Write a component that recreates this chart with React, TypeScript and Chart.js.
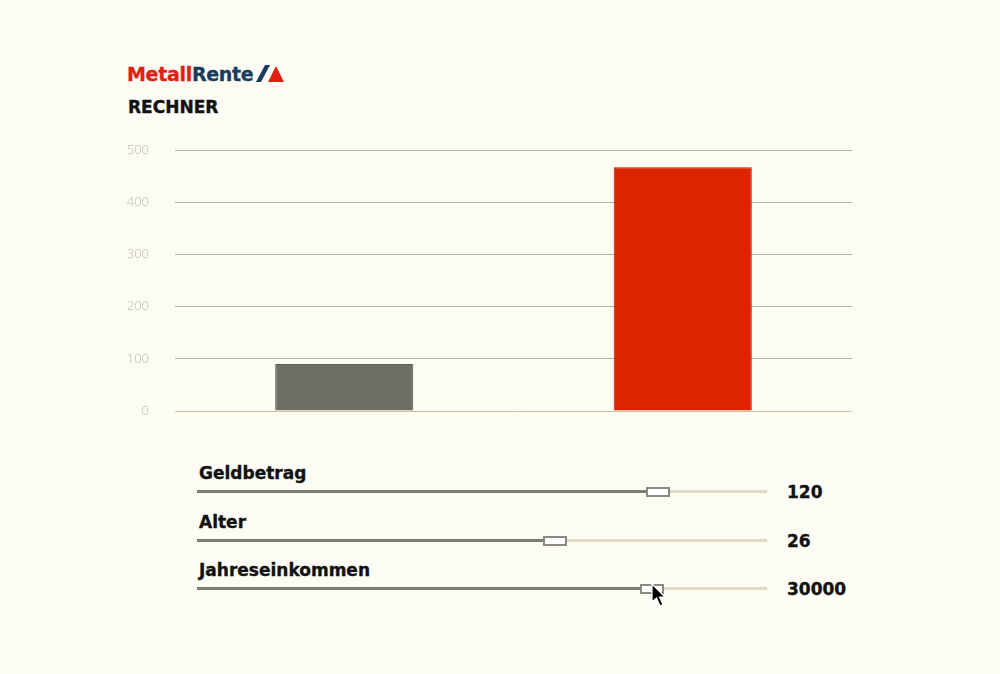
import React, { useEffect, useRef } from "react";
import { Chart, registerables } from "chart.js";

Chart.register(...registerables);

const categories = ["Einzahlung", "Auszahlung"];
const values = [90, 467];
const barColors = ["#6e6e64", "#dd2300"];
const barBorders = ["#5e5e58", "#c41a00"];
const yMin = 0;
const yMax = 500;
const yStep = 100;

const sliderLabels = ["Geldbetrag", "Alter", "Jahreseinkommen"];
const sliderValues = ["120", "26", "30000"];
const sliderFill = [0.809, 0.628, 0.798];

const FONT = "'DejaVu Sans', 'Noto Sans', sans-serif";

function Slider({ label, value, fill, top }: { label: string; value: string; fill: number; top: number }) {
  const trackLeft = 197;
  const trackWidth = 570;
  const thumbX = trackLeft + trackWidth * fill;
  return (
    <>
      <div
        style={{
          position: "absolute",
          left: 199,
          top: top - 29,
          fontFamily: FONT,
          fontWeight: 700,
          fontSize: 17,
          lineHeight: "20px",
          color: "#111",
          WebkitTextStroke: "0.35px #111",
        }}
      >
        {label}
      </div>
      <div
        style={{
          position: "absolute",
          left: trackLeft,
          top: top - 1.5,
          width: thumbX - trackLeft,
          height: 3,
          background: "#7c7c72",
        }}
      />
      <div
        style={{
          position: "absolute",
          left: thumbX,
          top: top - 1.5,
          width: trackLeft + trackWidth - thumbX,
          height: 3,
          background: "#dcdcc6",
        }}
      />
      <div
        style={{
          position: "absolute",
          left: thumbX - 12,
          top: top - 5,
          width: 20,
          height: 6,
          border: "2px solid #8a8a82",
          background: "#ffffff",
        }}
      />
      <div
        style={{
          position: "absolute",
          left: 787,
          top: top - 10,
          fontFamily: FONT,
          fontWeight: 700,
          fontSize: 17,
          lineHeight: "20px",
          color: "#111",
          WebkitTextStroke: "0.35px #111",
        }}
      >
        {value}
      </div>
    </>
  );
}

export default function App() {
  const canvasRef = useRef<HTMLCanvasElement | null>(null);

  useEffect(() => {
    if (!canvasRef.current) return;
    const chart = new Chart(canvasRef.current, {
      type: "bar",
      data: {
        labels: categories,
        datasets: [
          {
            data: values,
            backgroundColor: barColors,
            borderColor: barBorders,
            borderWidth: 1,
            barPercentage: 0.5,
            categoryPercentage: 0.816,
          },
        ],
      },
      options: {
        animation: false,
        responsive: false,
        maintainAspectRatio: false,
        layout: { padding: { top: 20, right: 13, bottom: 19, left: 0 } },
        plugins: {
          legend: { display: false },
          tooltip: { enabled: false },
          title: { display: false },
        },
        scales: {
          x: { display: false },
          y: {
            min: yMin,
            max: yMax,
            ticks: {
              stepSize: yStep,
              color: "#c4c4aa",
              padding: 0,
              font: { family: "'Noto Sans', sans-serif", size: 13, weight: "300" as any },
            },
            grid: {
              drawTicks: true,
              tickLength: 26,
              tickColor: "rgba(0,0,0,0)",
              color: (ctx: any) => (ctx.tick && ctx.tick.value === 0 ? "#c6c690" : "#b4b4a8"),
              lineWidth: 1,
            },
            border: { display: false },
            afterFit: (scale: any) => {
              scale.width = 60;
            },
          },
        },
      },
    });
    return () => chart.destroy();
  }, []);

  const trackTops = [491.5, 540.5, 588.5];

  return (
    <div
      style={{
        position: "fixed",
        left: 0,
        top: 0,
        width: 1000,
        height: 674,
        background: "#fcfcf4",
        overflow: "hidden",
      }}
    >
      <div
        style={{
          position: "absolute",
          left: 127,
          top: 62,
          fontFamily: FONT,
          fontWeight: 700,
          fontSize: 19,
          lineHeight: "24px",
          letterSpacing: -0.3,
          whiteSpace: "nowrap",
        }}
      >
        <span style={{ color: "#e02010", WebkitTextStroke: "0.3px #e02010" }}>Metall</span>
        <span style={{ color: "#1b3a60", WebkitTextStroke: "0.3px #1b3a60" }}>Rente</span>
      </div>
      <svg
        style={{ position: "absolute", left: 256, top: 65 }}
        width={30}
        height={18}
        viewBox="0 0 30 18"
      >
        <polygon points="9,0 14,0 5,17 0,17" fill="#1b3a60" />
        <polygon points="20,1 28,17 12,17" fill="#e02010" />
      </svg>
      <div
        style={{
          position: "absolute",
          left: 128,
          top: 97,
          fontFamily: FONT,
          fontWeight: 700,
          fontSize: 17,
          lineHeight: "20px",
          color: "#111",
          WebkitTextStroke: "0.4px #111",
        }}
      >
        RECHNER
      </div>

      <canvas
        ref={canvasRef}
        width={750}
        height={300}
        style={{ position: "absolute", left: 115, top: 130, width: 750, height: 300 }}
      />

      {sliderLabels.map((l, i) => (
        <Slider key={l} label={l} value={sliderValues[i]} fill={sliderFill[i]} top={trackTops[i]} />
      ))}

      <svg style={{ position: "absolute", left: 650, top: 583 }} width={20} height={28} viewBox="0 0 20 28">
        <polygon
          points="2,1 2,19 6.5,15 10,23 13,21.5 9.5,14 15,14"
          fill="#000"
          stroke="#fff"
          strokeWidth={1.2}
        />
      </svg>
    </div>
  );
}
